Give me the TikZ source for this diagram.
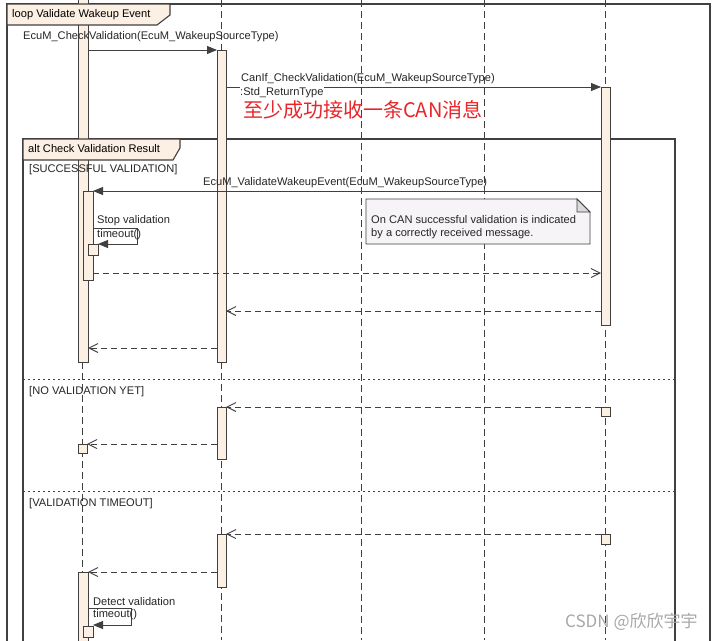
\documentclass[tikz,border=0pt]{standalone}
\usepackage{fontspec}
\setmainfont{Liberation Sans}
\newfontfamily\cjk{Noto Sans CJK SC}
\usetikzlibrary{arrows.meta}
\definecolor{act}{HTML}{FBF0E3}
\definecolor{ln}{HTML}{404040}
\definecolor{notefill}{HTML}{F7F4F7}
\definecolor{foldfill}{HTML}{DCD8DC}
\definecolor{redtxt}{HTML}{E8262A}
\definecolor{wm}{HTML}{A8A8A8}
\begin{document}
\begin{tikzpicture}[x=1pt,y=-1pt,
  font=\fontsize{11.1}{13}\selectfont,
  lifeln/.style={draw=ln, dash pattern=on 7pt off 4pt, line width=0.9pt},
  actbar/.style={draw=ln, fill=act, line width=0.9pt},
  frm/.style={draw=ln, line width=1.1pt},
  tabshape/.style={draw=ln, fill=act, line width=1.1pt},
  sync/.style={draw=ln, line width=0.9pt, -{Triangle[length=10pt,width=8pt]}},
  reply/.style={draw=ln, line width=0.9pt, dash pattern=on 6pt off 4pt, -{Straight Barb[length=9pt,width=9pt]}},
  sep/.style={draw=ln, dash pattern=on 2pt off 3pt, line width=0.9pt},
  lbl/.style={inner sep=0pt, anchor=west, text=black!85},
  notebox/.style={draw=ln, fill=notefill, line width=0.8pt}]
\useasboundingbox (0,0) rectangle (717,640);
\fill[white] (0,0) rectangle (717,640);
% lifelines
\draw[lifeln] (221,0) -- (221,50);
\draw[lifeln] (221,362) -- (221,640);
\draw[lifeln] (361,0) -- (361,640);
\draw[lifeln] (484,0) -- (484,640);
\draw[lifeln] (605,0) -- (605,640);
\draw[lifeln] (82,362) -- (82,640);
% frames
\draw[frm] (7,645) -- (7,4) -- (710,4) -- (710,645);
\draw[frm] (23,645) -- (23,139) -- (675,139) -- (675,645);
\draw[sep] (23,379) -- (675,379);
\draw[sep] (23,491) -- (675,491);
% activations
\draw[actbar] (78,-3) rectangle (88,362);
\draw[actbar] (217,50) rectangle (226,362);
\draw[actbar] (601,87) rectangle (610,325);
\draw[actbar] (83,191) rectangle (93,280);
\draw[actbar] (88,244) rectangle (98,255);
\draw[actbar] (601,407) rectangle (610,416);
\draw[actbar] (217,407) rectangle (226,459);
\draw[actbar] (78,444) rectangle (87,453);
\draw[actbar] (601,534) rectangle (610,544);
\draw[actbar] (217,534) rectangle (226,587);
\draw[actbar] (78,572) rectangle (88,645);
\draw[actbar] (83,626) rectangle (93,637);
% frame tabs
\draw[tabshape] (7,4) -- (170,4) -- (170,15) -- (157,25) -- (7,25) -- cycle;
\node[lbl, text=black] (looplbl) at (12,14.5) {loop Validate Wakeup Event};
\draw[tabshape] (23,139) -- (180,139) -- (180,148) -- (173,160) -- (23,160) -- cycle;
\node[lbl, text=black] (altlbl) at (28,148.5) {alt Check Validation Result};
% coordinates for message ends
\coordinate (m1s) at (88,50);   \coordinate (m1e) at (217,50);
\coordinate (m2s) at (226,87);  \coordinate (m2e) at (601,87);
\coordinate (m3s) at (601,191); \coordinate (m3e) at (93,191);
\coordinate (s1a) at (93,228);  \coordinate (s1b) at (137,228);
\coordinate (s1c) at (137,244); \coordinate (s1d) at (98,244);
\coordinate (r1s) at (93,273);  \coordinate (r1e) at (601,273);
\coordinate (r2s) at (601,311); \coordinate (r2e) at (226,311);
\coordinate (r3s) at (217,348); \coordinate (r3e) at (88,348);
\coordinate (r4s) at (601,407); \coordinate (r4e) at (226,407);
\coordinate (r5s) at (217,444); \coordinate (r5e) at (87,444);
\coordinate (r6s) at (601,534); \coordinate (r6e) at (226,534);
\coordinate (r7s) at (217,572); \coordinate (r7e) at (88,572);
\coordinate (s2a) at (88,608);  \coordinate (s2b) at (131,608);
\coordinate (s2c) at (131,625); \coordinate (s2d) at (93,625);
% messages
\draw[sync] (m1s) -- (m1e);
\draw[sync] (m2s) -- (m2e);
\draw[sync] (m3s) -- (m3e);
\draw[sync] (s1a) -- (s1b) -- (s1c) -- (s1d);
\draw[reply] (r1s) -- (r1e);
\draw[reply] (r2s) -- (r2e);
\draw[reply] (r3s) -- (r3e);
\draw[reply] (r4s) -- (r4e);
\draw[reply] (r5s) -- (r5e);
\draw[reply] (r6s) -- (r6e);
\draw[reply] (r7s) -- (r7e);
\draw[sync] (s2a) -- (s2b) -- (s2c) -- (s2d);
% note
\draw[notebox] (366,199) -- (577,199) -- (590,212) -- (590,244) -- (366,244) -- cycle;
\draw[notebox, fill=foldfill] (577,199) -- (577,212) -- (590,212) -- cycle;
\node[lbl] (note1) at (371,219.5) {On CAN successful validation is indicated};
\node[lbl] (note2) at (371,233.5) {by a correctly received message.};
% labels
\node[lbl] (l1) at (23,36.5) {EcuM\_CheckValidation(EcuM\_WakeupSourceType)};
\node[lbl] (l2) at (241,78.5) {CanIf\_CheckValidation(EcuM\_WakeupSourceType)};
\node[lbl, fill=white, inner ysep=1pt] (l3) at (240,93) {:Std\_ReturnType};
\node[lbl, text=redtxt, font=\cjk\fontsize{20}{22}\selectfont] (l4) at (243,110) {至少成功接收一条CAN消息};
\node[lbl] (g1) at (29,169.5) {[SUCCESSFUL VALIDATION]};
\node[lbl] (l5) at (203,182.5) {EcuM\_ValidateWakeupEvent(EcuM\_WakeupSourceType)};
\node[lbl] (l6) at (97,220.5) {Stop validation};
\node[lbl] (l7) at (97,235) {timeout()};
\node[lbl] (g2) at (29,391.5) {[NO VALIDATION YET]};
\node[lbl] (g3) at (29,503.5) {[VALIDATION TIMEOUT]};
\node[lbl] (l8) at (93,601.5) {Detect validation};
\node[lbl] (l9) at (93,615) {timeout()};
\node[lbl, text=wm, font=\cjk\fontsize{17}{19}\selectfont] (wmk) at (565,622) {CSDN @欣欣宇宇};
\end{tikzpicture}
\end{document}
